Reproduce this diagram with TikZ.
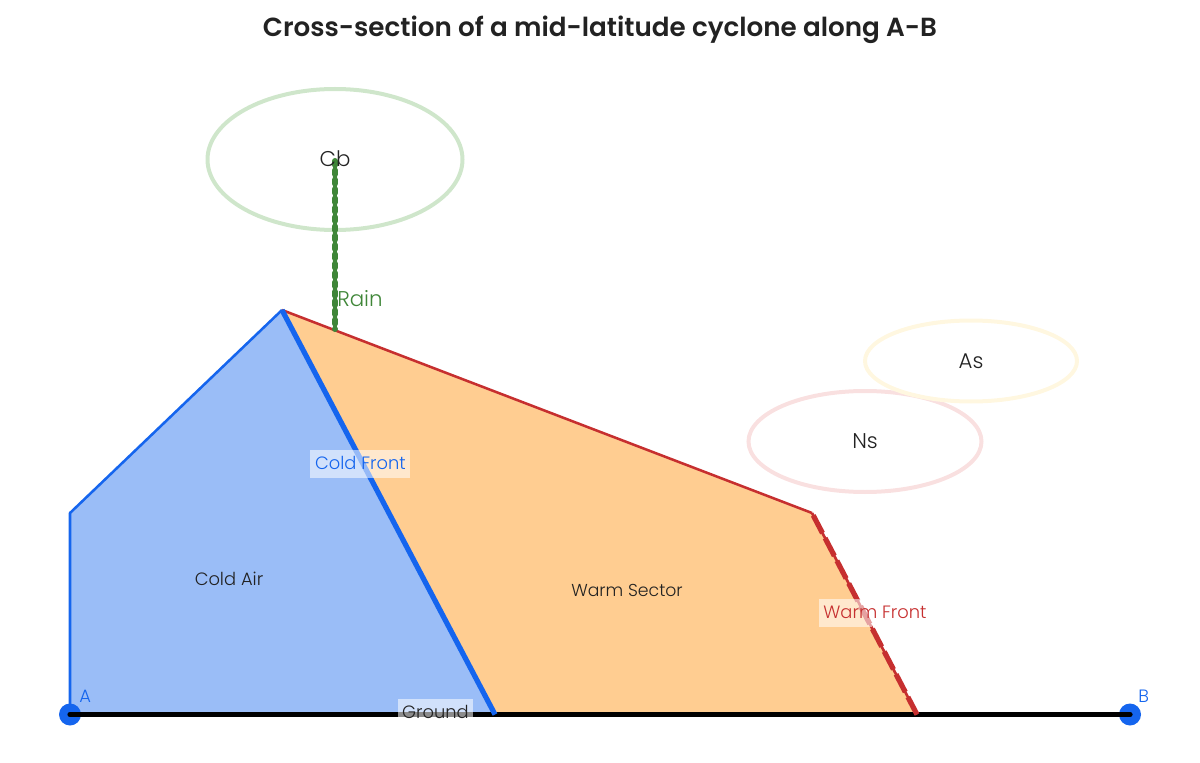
\documentclass[tikz,border=0pt]{standalone}
\usepackage{fontspec}
\setmainfont{Poppins Light}
\newfontfamily\titlefont{Poppins SemiBold}
\usetikzlibrary{calc,shapes.geometric}
\definecolor{cblue}{HTML}{1565EE}
\definecolor{cred}{HTML}{C62F2F}
\definecolor{cgreen}{HTML}{3F8638}
\definecolor{cfillb}{HTML}{9ABDF7}
\definecolor{cfillo}{HTML}{FFCD91}
\definecolor{ink}{HTML}{222222}
\definecolor{cloudg}{HTML}{CFE6CB}
\definecolor{cloudr}{HTML}{F9E0E0}
\definecolor{cloudy}{HTML}{FFF7E0}
\tikzset{
  x=0.75pt,y=-0.75pt,
  lab/.style={font=\fontsize{13.4}{15}\selectfont,text=ink,inner sep=0pt},
  big/.style={font=\fontsize{16}{18}\selectfont,text=ink,inner sep=0pt},
  tagbox/.style={fill=white,fill opacity=0.55,inner sep=0pt,minimum height=21pt},
  cloud/.style={ellipse,draw,line width=3pt,inner sep=0pt},
  endp/.style={circle,fill=cblue,minimum size=16.5pt,inner sep=0pt},
}
\begin{document}
\begin{tikzpicture}
\useasboundingbox (0,0) rectangle (1200,763);
\coordinate (a0) at (70,714.5);
\coordinate (a1) at (70,513);
\coordinate (top) at (282,310);
\coordinate (gc) at (495,714.5);
\coordinate (wt) at (812,513);
\coordinate (gw) at (917,714.5);
\coordinate (rt) at (335,161);
\coordinate (rb) at (335,329);
\coordinate (bp) at (1130,714.5);
\node[font=\titlefont\fontsize{19.65}{24}\selectfont,text=ink,inner sep=0pt] (title) at (600,30) {Cross-section of a mid-latitude cyclone along A-B};
% clouds
\node[cloud,draw=cloudg,minimum width=255*0.75pt,minimum height=141*0.75pt] (cb) at (335,159.5) {};
\node[cloud,draw=cloudr,minimum width=233*0.75pt,minimum height=101*0.75pt] (ns) at (865,441.5) {};
\node[cloud,draw=cloudy,minimum width=212*0.75pt,minimum height=81*0.75pt] (as) at (971,361) {};
% air masses
\fill[cfillo] (top) -- (wt) -- (gw) -- (gc) -- cycle;
\fill[cfillb] (a0) -- (a1) -- (top) -- (gc) -- cycle;
\draw[cblue,line width=1.9pt,line join=round] (a0) -- (a1) -- (top);
\draw[cred,line width=1.9pt] (top) -- (wt);
% rain
\draw[cgreen,line width=3pt] (rt) -- (rb);
\draw[cgreen,line width=4.5pt,dash pattern=on 3pt off 4pt,line cap=round] (rt) -- (rb);
% ground and fronts
\node[endp] (A) at (a0) {};
\node[endp] (B) at (bp) {};
\draw[black,line width=3.9pt,line cap=round] (A.center) -- (B.center);
\draw[cblue,line width=3.9pt] (top) -- (gc);
\draw[cred,line width=2pt] (wt) -- (gw);
\draw[cred,line width=3.9pt,dash pattern=on 15pt off 4.2pt,dash phase=-2pt] (wt) -- (gw);
% tag backgrounds
\node[tagbox,minimum width=100*0.75pt] (cfbox) at (360,463.5) {};
\node[tagbox,minimum width=53*0.75pt] (wfbox) at (845.5,613) {};
\node[tagbox,minimum width=75*0.75pt,minimum height=15pt] (grbox) at (435.5,709) {};
% texts
\node[big] (cbt) at (335,159) {Cb};
\node[big] (nst) at (865,441) {Ns};
\node[big] (ast) at (971,361) {As};
\node[big,text=cgreen,anchor=west] (rain) at (337,299) {Rain};
\node[lab] (cold) at (229,579) {Cold Air};
\node[lab,font=\fontsize{12.95}{15}\selectfont] (warm) at (627,590) {Warm Sector};
\node[lab,text=cblue] (cf) at (360.5,463) {Cold Front};
\node[lab,text=cred] (wf) at (875,612.5) {Warm Front};
\node[lab] (gr) at (435.5,712) {Ground};
\node[lab,text=cblue,anchor=west] (la) at (79,696) {A};
\node[lab,text=cblue,anchor=west] (lb) at (1138,696) {B};
\end{tikzpicture}
\end{document}
